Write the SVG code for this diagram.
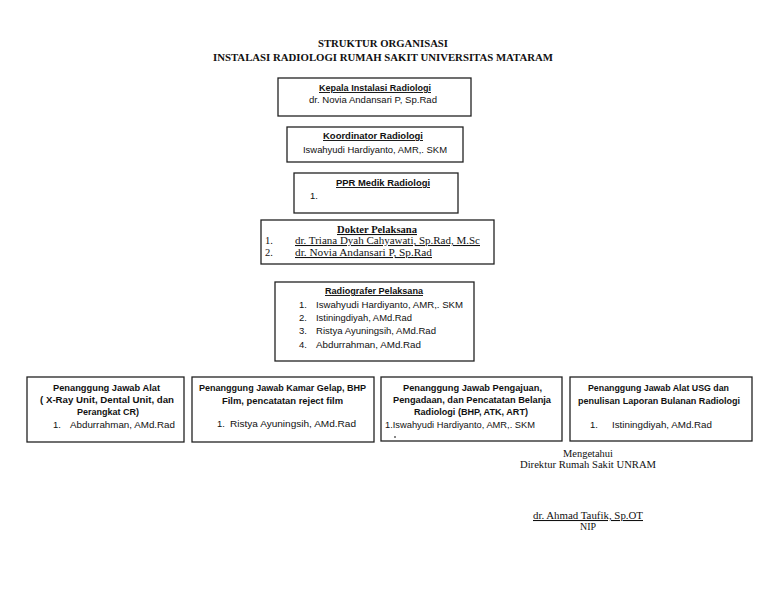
<svg xmlns="http://www.w3.org/2000/svg" width="768" height="594" viewBox="0 0 768 594">
<style>
.box{fill:#fff;stroke:#222;stroke-width:1.3}
.s{font-family:"Liberation Sans","DejaVu Sans",sans-serif;font-size:9.5px;fill:#111}
.b{font-weight:bold}
.t{font-family:"Liberation Serif","DejaVu Serif",serif;fill:#111}
.u{text-decoration:underline}
</style>
<rect width="768" height="594" fill="#fff"/>
<g id="title">
<text class="t b" x="318" y="47" font-size="10.5" textLength="130" lengthAdjust="spacingAndGlyphs">STRUKTUR ORGANISASI</text>
<text class="t b" x="213" y="61" font-size="10.5" textLength="340" lengthAdjust="spacingAndGlyphs">INSTALASI RADIOLOGI RUMAH SAKIT UNIVERSITAS MATARAM</text>
</g>
<g id="connectors"></g>
<g id="kepala">
<rect class="box" x="278" y="78" width="193" height="38"/>
<text class="s b u" x="319" y="91" textLength="112" lengthAdjust="spacingAndGlyphs">Kepala Instalasi Radiologi</text>
<text class="s" x="309" y="103" textLength="128" lengthAdjust="spacingAndGlyphs">dr. Novia Andansari P, Sp.Rad</text>
</g>
<g id="koordinator">
<rect class="box" x="287" y="127" width="176" height="35"/>
<text class="s b u" x="323" y="139" textLength="100" lengthAdjust="spacingAndGlyphs">Koordinator Radiologi</text>
<text class="s" x="303" y="153" textLength="144" lengthAdjust="spacingAndGlyphs">Iswahyudi Hardiyanto, AMR,. SKM</text>
</g>
<g id="ppr">
<rect class="box" x="294" y="173" width="164" height="40"/>
<text class="s b u" x="336" y="186" textLength="94" lengthAdjust="spacingAndGlyphs">PPR Medik  Radiologi</text>
<text class="s" x="310" y="199">1.</text>
</g>
<g id="dokter">
<rect class="box" x="261" y="220" width="233" height="44"/>
<text class="t b u" x="337" y="233" font-size="10.5" textLength="80" lengthAdjust="spacingAndGlyphs">Dokter Pelaksana</text>
<text class="t" x="265" y="244" font-size="10.5">1.</text>
<text class="t u" x="295" y="244" font-size="10.5" textLength="185" lengthAdjust="spacingAndGlyphs">dr. Triana Dyah Cahyawati, Sp.Rad, M.Sc</text>
<text class="t" x="265" y="256" font-size="10.5">2.</text>
<text class="t u" x="295" y="256" font-size="10.5" textLength="137" lengthAdjust="spacingAndGlyphs">dr. Novia Andansari P, Sp.Rad</text>
</g>
<g id="radiografer">
<rect class="box" x="275" y="282" width="199" height="79"/>
<text class="s b u" x="325" y="294" textLength="98" lengthAdjust="spacingAndGlyphs">Radiografer Pelaksana</text>
<text class="s" x="299" y="308">1.</text>
<text class="s" x="316" y="308" textLength="147" lengthAdjust="spacingAndGlyphs">Iswahyudi Hardiyanto, AMR,. SKM</text>
<text class="s" x="299" y="321">2.</text>
<text class="s" x="316" y="321" textLength="96" lengthAdjust="spacingAndGlyphs">Istiningdiyah, AMd.Rad</text>
<text class="s" x="299" y="334">3.</text>
<text class="s" x="316" y="334" textLength="120" lengthAdjust="spacingAndGlyphs">Ristya Ayuningsih, AMd.Rad</text>
<text class="s" x="299" y="348">4.</text>
<text class="s" x="316" y="348" textLength="105" lengthAdjust="spacingAndGlyphs">Abdurrahman, AMd.Rad</text>
</g>
<g id="pj-alat">
<rect class="box" x="27" y="377" width="157" height="65"/>
<text class="s b" x="53" y="391" textLength="107" lengthAdjust="spacingAndGlyphs">Penanggung Jawab Alat</text>
<text class="s b" x="40" y="403" textLength="134" lengthAdjust="spacingAndGlyphs">( X-Ray Unit, Dental Unit, dan</text>
<text class="s b" x="77" y="415" textLength="62" lengthAdjust="spacingAndGlyphs">Perangkat CR)</text>
<text class="s" x="53" y="428">1.</text>
<text class="s" x="70" y="428" textLength="105" lengthAdjust="spacingAndGlyphs">Abdurrahman, AMd.Rad</text>
</g>
<g id="pj-kamar">
<rect class="box" x="192" y="377" width="182" height="65"/>
<text class="s b" x="199" y="391" textLength="167" lengthAdjust="spacingAndGlyphs">Penanggung Jawab Kamar Gelap, BHP</text>
<text class="s b" x="222" y="404" textLength="121" lengthAdjust="spacingAndGlyphs">Film, pencatatan reject film</text>
<text class="s" x="217" y="427">1.</text>
<text class="s" x="230" y="427" textLength="126" lengthAdjust="spacingAndGlyphs">Ristya Ayuningsih, AMd.Rad</text>
</g>
<g id="pj-pengajuan">
<rect class="box" x="381" y="377" width="181" height="64"/>
<text class="s b" x="403" y="391" textLength="139" lengthAdjust="spacingAndGlyphs">Penanggung Jawab Pengajuan,</text>
<text class="s b" x="393" y="403" textLength="158" lengthAdjust="spacingAndGlyphs">Pengadaan, dan Pencatatan Belanja</text>
<text class="s b" x="414" y="415" textLength="114" lengthAdjust="spacingAndGlyphs">Radiologi (BHP, ATK, ART)</text>
<text class="s" x="385" y="428" textLength="150" lengthAdjust="spacingAndGlyphs">1.Iswahyudi Hardiyanto, AMR,. SKM</text>
<line x1="394" y1="437" x2="396" y2="437" stroke="#111" stroke-width="1.2"/>
</g>
<g id="pj-usg">
<rect class="box" x="570" y="377" width="182" height="64"/>
<text class="s b" x="588" y="391" textLength="141" lengthAdjust="spacingAndGlyphs">Penanggung Jawab Alat USG dan</text>
<text class="s b" x="578" y="404" textLength="162" lengthAdjust="spacingAndGlyphs">penulisan Laporan Bulanan Radiologi</text>
<text class="s" x="590" y="428">1.</text>
<text class="s" x="612" y="428" textLength="100" lengthAdjust="spacingAndGlyphs">Istiningdiyah, AMd.Rad</text>
</g>
<g id="signature">
<text class="t" x="563" y="457" font-size="10.5" textLength="50" lengthAdjust="spacingAndGlyphs">Mengetahui</text>
<text class="t" x="520" y="468" font-size="10.5" textLength="136" lengthAdjust="spacingAndGlyphs">Direktur Rumah Sakit UNRAM</text>
<text class="t u" x="533" y="519" font-size="10.5" textLength="110" lengthAdjust="spacingAndGlyphs">dr. Ahmad Taufik, Sp.OT</text>
<text class="t" x="580" y="530" font-size="10.5" textLength="16" lengthAdjust="spacingAndGlyphs">NIP</text>
</g>
</svg>
